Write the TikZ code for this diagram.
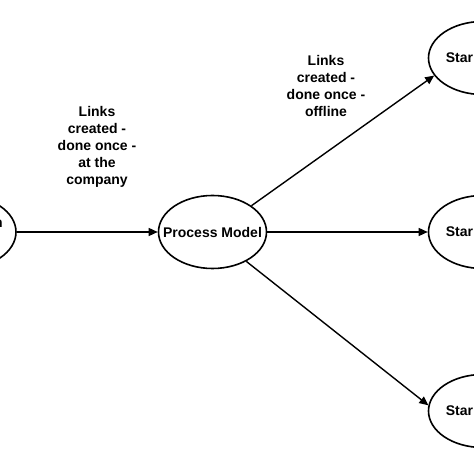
\documentclass[tikz,border=0pt]{standalone}
\usepackage{fontspec}
\setmainfont{Liberation Sans}
\usetikzlibrary{shapes.geometric,arrows.meta,positioning}

\begin{document}
\begin{tikzpicture}[x=1pt,y=1pt,
        model/.style={ellipse,draw,line width=1.6pt,minimum width=108pt,minimum height=73pt,inner sep=0pt},
        link/.style={-{Triangle[length=9pt,width=8pt]},line width=1.4pt},
        note/.style={align=center,inner sep=0pt,font=\bfseries\fontsize{14}{17}\selectfont}]
        \useasboundingbox (0,0) rectangle (474,474);
        \clip (0,0) rectangle (474,474);
        \node[model] (src) at (-38,242) {};
        \node[model] (pm) at (212.5,242) {};
        \node[model] (s1) at (482.5,416) {};
        \node[model] (s2) at (482.5,242) {};
        \node[model] (s3) at (482.5,63) {};
        \node[note,anchor=base east] (srctext) at (3,246) {n};
        \node[note] (pmtext) at (pm) {Process Model};
        \node[note,right=18pt of s1.west] (s1text) {Star};
        \node[note,right=18pt of s2.west] (s2text) {Star};
        \node[note,right=18pt of s3.west] (s3text) {Star};
        \node[note] (note1) at (97,327) {Links\\created -\\done once -\\at the\\company};
        \node[note] (note2) at (326,388) {Links\\created -\\done once -\\offline};

        \draw[link] (src) -- (pm);
        \draw[link] (pm.34) -- (s1.200);
        \draw[link] (pm) -- (s2);
        \draw[link] (pm.-41) -- (s3.174);
    \end{tikzpicture}
\end{document}
